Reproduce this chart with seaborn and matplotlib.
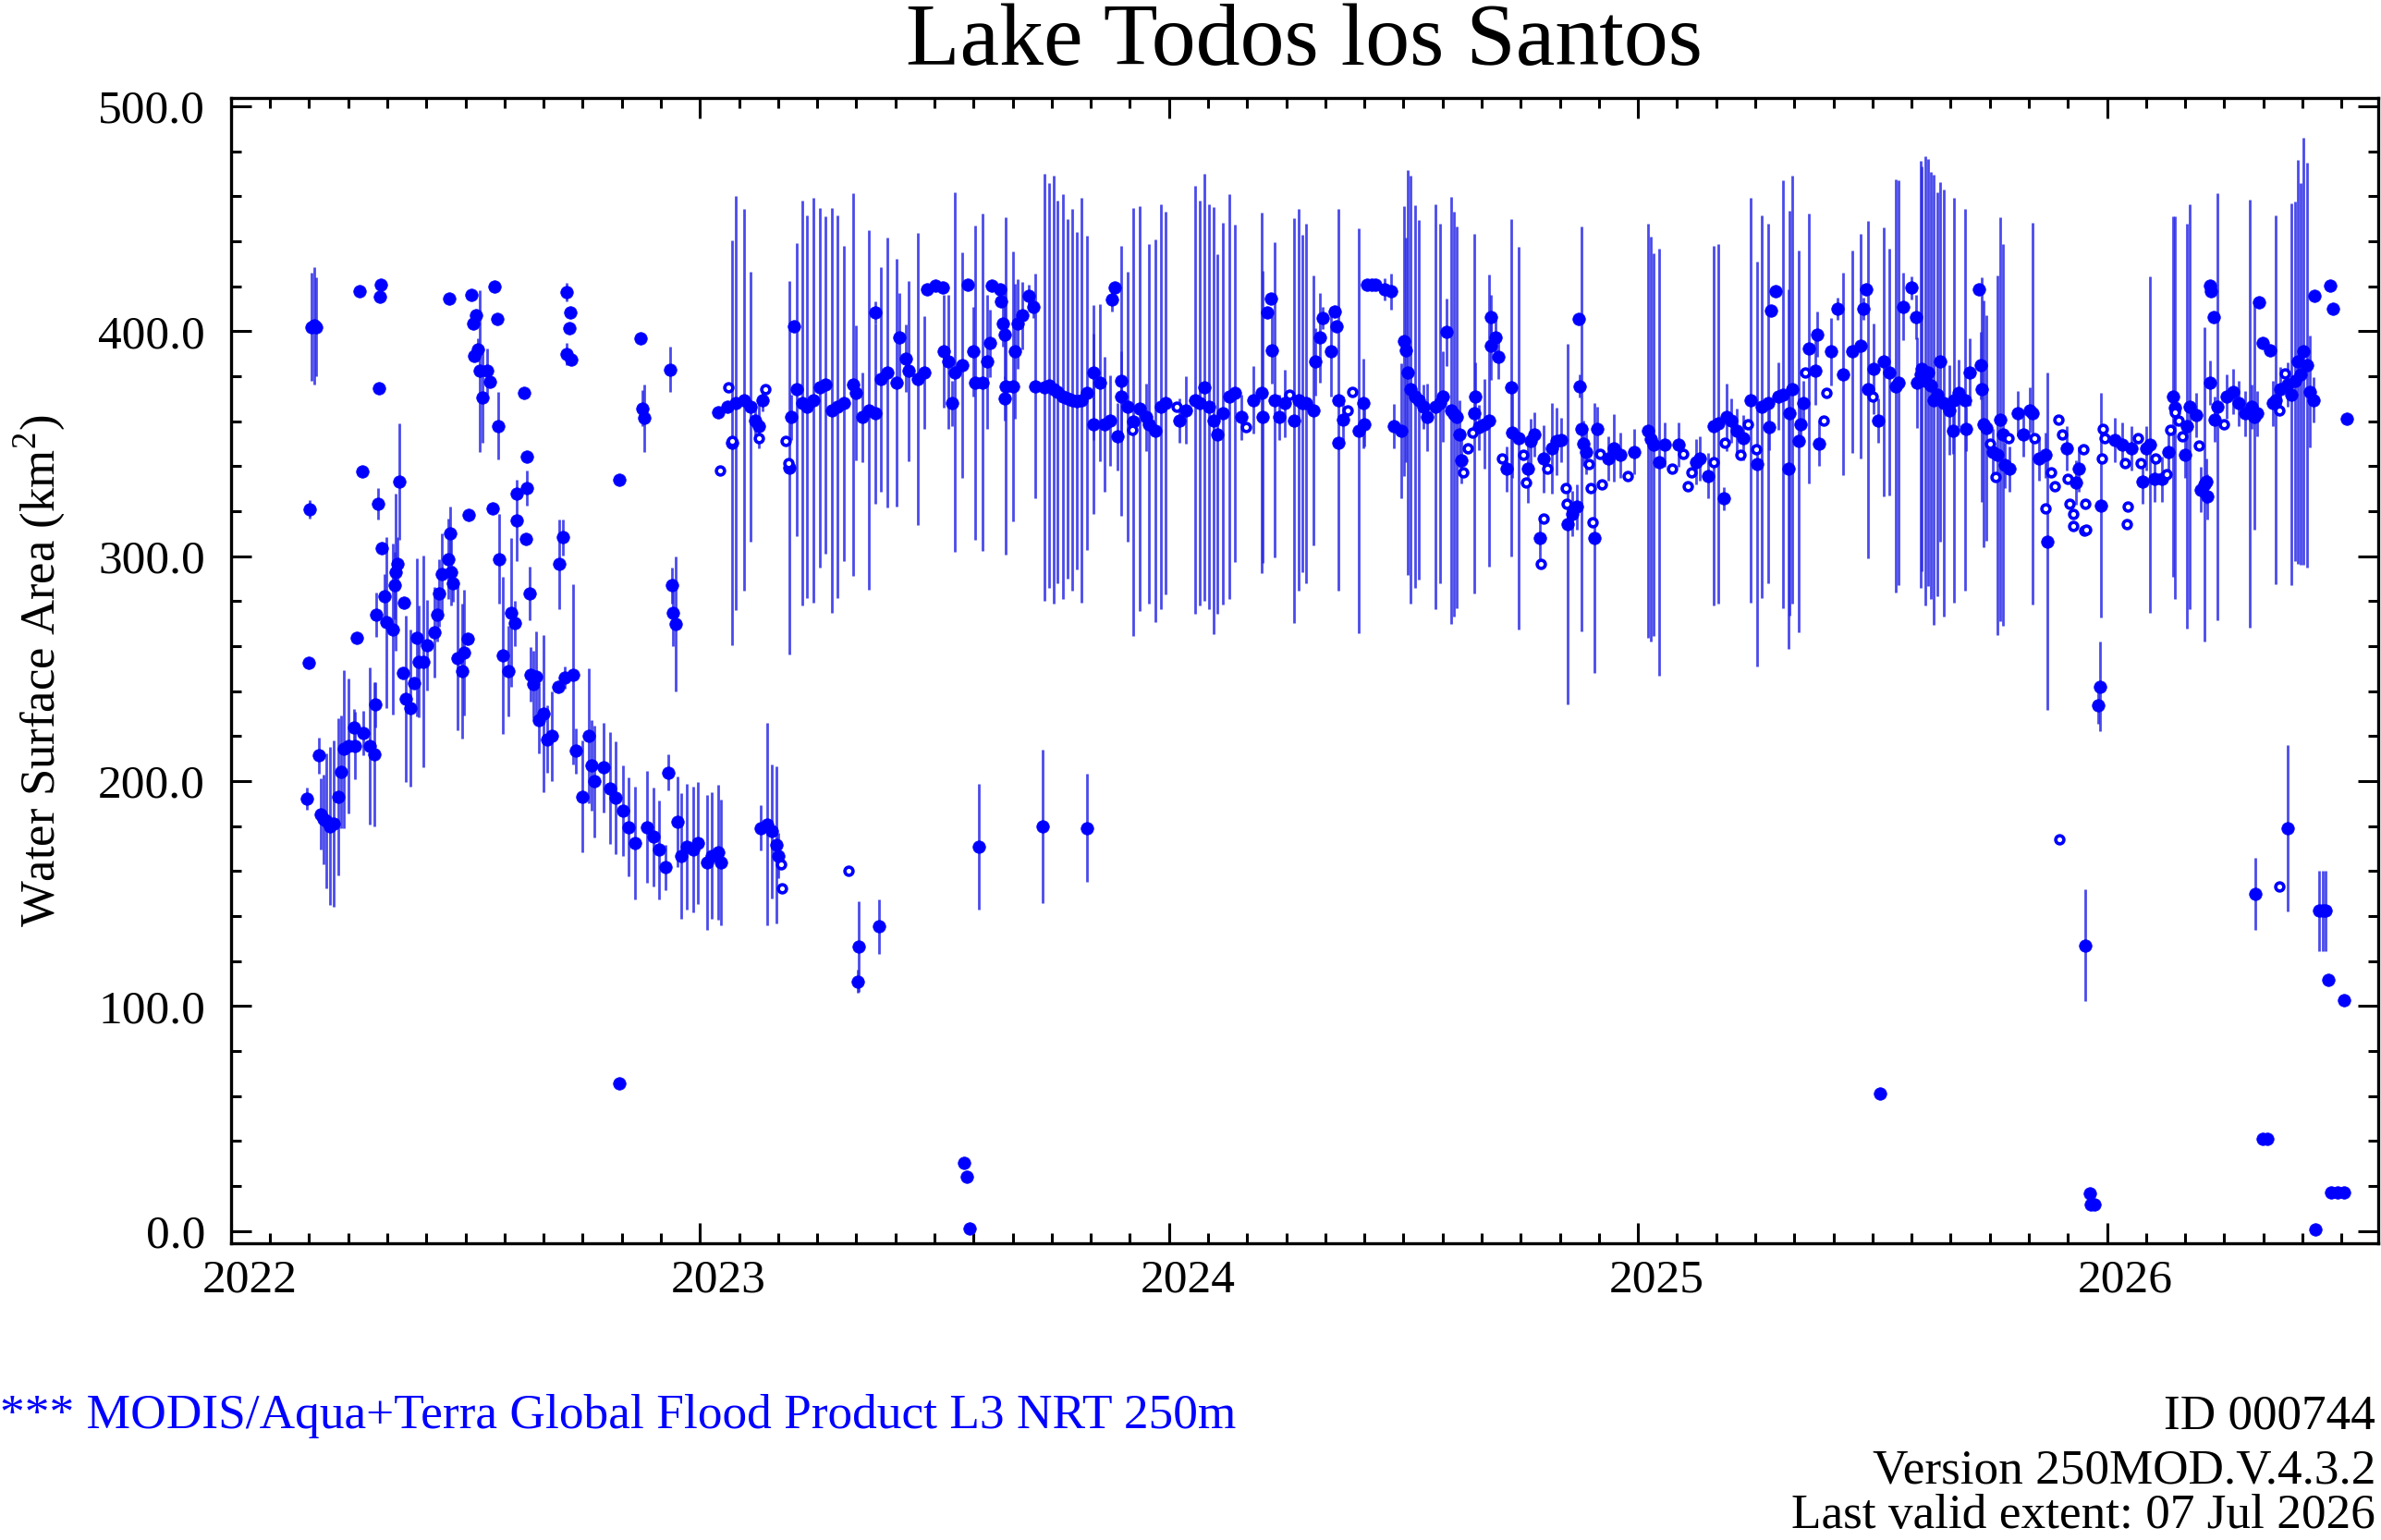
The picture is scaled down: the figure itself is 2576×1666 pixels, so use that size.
import matplotlib
matplotlib.use("Agg")
import pandas as pd
import seaborn as sns
import matplotlib.pyplot as plt
from matplotlib.ticker import MultipleLocator, FormatStrFormatter
from matplotlib.transforms import ScaledTranslation

# ---------------- data ----------------
# filled points: (decimal year, water surface area km2, half length of error bar)
obs_2022 = [
    (2022.167, 320.8, 4), (2022.165, 252.6, 0), (2022.162, 192.3, 5), (2022.172, 402.0, 24),
    (2022.177, 402.5, 26), (2022.182, 402.0, 22), (2022.187, 211.4, 8), (2022.191, 185.4, 16),
    (2022.198, 183.0, 20), (2022.204, 182.5, 30), (2022.212, 180.0, 35), (2022.219, 181.0, 37),
    (2022.229, 193.0, 35), (2022.234, 204.0, 25), (2022.240, 214.2, 35), (2022.250, 215.7, 30),
    (2022.263, 224.0, 8), (2022.265, 215.7, 15), (2022.269, 263.9, 0), (2022.275, 417.8, 0),
    (2022.280, 337.8, 0), (2022.283, 221.4, 10), (2022.296, 215.7, 35), (2022.306, 212.0, 32),
    (2022.307, 234.0, 10), (2022.309, 274.0, 10), (2022.313, 323.4, 7), (2022.316, 374.5, 0),
    (2022.318, 415.2, 0), (2022.320, 420.7, 0), (2022.322, 303.7, 0), (2022.328, 282.0, 10),
    (2022.332, 270.5, 38), (2022.345, 267.6, 38), (2022.349, 287.0, 15), (2022.352, 292.8, 35),
    (2022.354, 296.5, 12), (2022.359, 333.2, 26), (2022.367, 248.0, 0), (2022.368, 279.2, 0),
    (2022.372, 236.5, 37), (2022.382, 232.4, 35), (2022.391, 243.7, 0), (2022.396, 263.9, 35),
    (2022.401, 253.2, 25), (2022.411, 253.2, 47), (2022.418, 260.4, 20), (2022.434, 266.2, 20),
    (2022.439, 274.0, 12), (2022.444, 283.5, 15), (2022.449, 292.2, 18), (2022.464, 298.8, 18),
    (2022.467, 310.0, 12), (2022.470, 293.0, 15), (2022.473, 287.9, 8), (2022.466, 414.6, 0),
    (2022.483, 254.7, 32), (2022.492, 248.9, 30), (2022.496, 257.0, 28), (2022.504, 263.3, 0),
    (2022.506, 318.5, 0), (2022.512, 416.0, 0), (2022.516, 403.3, 0), (2022.519, 388.9, 0),
    (2022.523, 407.1, 0), (2022.526, 391.8, 5), (2022.531, 382.3, 36), (2022.536, 370.4, 20),
    (2022.546, 382.3, 10), (2022.552, 377.6, 0), (2022.557, 321.3, 0), (2022.562, 420.1, 0),
    (2022.567, 405.4, 0), (2022.570, 358.0, 15), (2022.572, 298.8, 20), (2022.579, 255.8, 35),
    (2022.592, 248.9, 20), (2022.598, 274.9, 33), (2022.605, 270.2, 10), (2022.610, 328.0, 0),
    (2022.610, 315.9, 18), (2022.624, 372.7, 0), (2022.628, 307.5, 0), (2022.630, 344.2, 0),
    (2022.631, 330.3, 8), (2022.636, 283.5, 12), (2022.638, 247.4, 12), (2022.644, 243.0, 15),
    (2022.651, 246.6, 20), (2022.657, 227.2, 15), (2022.667, 230.1, 35), (2022.674, 218.6, 15),
    (2022.684, 220.0, 20), (2022.697, 242.0, 0), (2022.700, 296.5, 20), (2022.707, 308.4, 8),
    (2022.712, 246.0, 5), (2022.716, 389.8, 5), (2022.716, 417.5, 4), (2022.721, 401.6, 0),
    (2022.723, 408.5, 0), (2022.726, 387.5, 0), (2022.730, 247.4, 40), (2022.736, 213.4, 10),
    (2022.749, 193.2, 25), (2022.762, 220.0, 30), (2022.769, 207.0, 20), (2022.775, 199.8, 25),
    (2022.795, 206.0, 20), (2022.808, 196.9, 25), (2022.821, 192.6, 25), (2022.828, 65.6, 0),
    (2022.828, 334.0, 0), (2022.835, 186.8, 20), (2022.848, 179.6, 22), (2022.861, 172.4, 25),
    (2022.874, 396.7, 0), (2022.877, 365.8, 8), (2022.881, 361.5, 15), (2022.887, 179.6, 25),
    (2022.900, 175.3, 22), (2022.913, 169.5, 22), (2022.927, 161.7, 10), (2022.933, 203.8, 8),
    (2022.936, 383.1, 10), (2022.940, 287.0, 8), (2022.943, 274.9, 15), (2022.949, 269.7, 30),
    (2022.953, 181.9, 20), (2022.959, 166.6, 28), (2022.972, 170.9, 28), (2022.986, 169.5, 28),
    (2022.995, 172.4, 27),
]

obs_2023 = [
    (2023.015, 163.8, 30), (2023.025, 166.9, 28), (2023.038, 168.4, 30), (2023.044, 163.8, 28),
    (2023.038, 364.0, 0), (2023.058, 366.4, 0), (2023.069, 350.5, 90), (2023.077, 368.0, 92),
    (2023.094, 369.5, 85), (2023.107, 366.4, 60), (2023.117, 360.3, 8), (2023.126, 357.9, 10),
    (2023.133, 369.5, 5), (2023.130, 179.2, 10), (2023.143, 180.7, 45), (2023.153, 177.6, 30),
    (2023.163, 171.5, 35), (2023.166, 166.9, 10), (2023.191, 339.4, 83), (2023.194, 361.8, 10),
    (2023.201, 402.4, 0), (2023.207, 374.1, 65), (2023.218, 368.0, 90), (2023.228, 366.4, 85),
    (2023.241, 369.5, 90), (2023.255, 375.0, 80), (2023.268, 376.3, 75), (2023.281, 364.9, 90),
    (2023.294, 366.4, 85), (2023.307, 368.0, 70), (2023.326, 376.3, 85), (2023.333, 372.6, 30),
    (2023.346, 361.8, 20), (2023.360, 364.9, 80), (2023.373, 363.4, 40), (2023.374, 408.5, 5),
    (2023.386, 378.7, 50), (2023.399, 381.8, 60), (2023.419, 377.2, 55), (2023.425, 397.2, 20),
    (2023.438, 387.9, 15), (2023.445, 382.4, 40), (2023.465, 378.7, 65), (2023.478, 381.8, 25),
    (2023.484, 418.6, 0), (2023.501, 420.2, 0), (2023.517, 419.3, 0), (2023.520, 391.0, 25),
    (2023.530, 386.4, 30), (2023.537, 368.0, 10), (2023.543, 381.8, 80), (2023.560, 384.9, 50),
    (2023.570, 420.8, 0), (2023.583, 391.0, 20), (2023.586, 377.2, 70), (2023.603, 377.2, 75),
    (2023.612, 386.4, 30), (2023.619, 394.7, 15), (2023.622, 420.2, 0), (2023.639, 418.6, 0),
    (2023.642, 413.4, 0), (2023.645, 403.3, 10), (2023.649, 398.7, 20), (2023.652, 375.7, 75),
    (2023.649, 370.1, 10), (2023.668, 375.7, 60), (2023.672, 391.0, 30), (2023.678, 403.3, 20),
    (2023.688, 407.0, 15), (2023.701, 415.6, 5), (2023.711, 411.0, 5), (2023.714, 375.7, 50),
    (2023.734, 375.0, 95), (2023.744, 376.0, 90), (2023.754, 374.1, 95), (2023.763, 373.0, 85),
    (2023.773, 371.0, 90), (2023.783, 370.0, 80), (2023.793, 369.5, 85), (2023.803, 369.0, 75),
    (2023.813, 369.5, 90), (2023.826, 372.6, 70), (2023.839, 381.8, 30), (2023.839, 358.8, 40),
    (2023.852, 377.2, 35), (2023.862, 358.8, 30), (2023.875, 360.3, 20), (2023.878, 414.0, 5),
    (2023.885, 419.3, 0), (2023.891, 353.2, 15), (2023.898, 378.1, 60), (2023.898, 371.0, 20),
    (2023.911, 366.4, 60), (2023.924, 359.7, 95), (2023.937, 365.8, 90), (2023.951, 361.8, 15),
    (2023.970, 355.7, 85), (2023.983, 366.4, 90),
    # low outliers
    (2023.339, 126.4, 20), (2023.337, 111.0, 5), (2023.381, 135.3, 12), (2023.563, 30.3, 0),
    (2023.568, 24.2, 0), (2023.575, 1.0, 0), (2023.594, 170.9, 28), (2023.731, 179.8, 34),
    (2023.826, 179.2, 24),
]

obs_2024 = [
    (2023.957, 358.8, 80), (2023.993, 368.0, 85), (2024.023, 360.3, 10), (2024.036, 364.9, 15),
    (2024.056, 369.5, 95), (2024.066, 368.0, 90), (2024.075, 375.0, 95), (2024.085, 366.4, 90),
    (2024.095, 360.3, 95), (2024.102, 354.2, 80), (2024.115, 363.4, 85), (2024.128, 371.0, 90),
    (2024.141, 372.6, 75), (2024.154, 361.8, 10), (2024.180, 369.5, 15), (2024.197, 372.6, 80),
    (2024.200, 361.8, 65), (2024.210, 408.5, 0), (2024.217, 414.6, 0), (2024.220, 391.6, 15),
    (2024.226, 369.5, 70), (2024.236, 361.8, 10), (2024.246, 368.0, 15), (2024.266, 360.3, 90),
    (2024.276, 369.5, 85), (2024.285, 368.0, 75), (2024.292, 368.0, 80), (2024.308, 364.9, 60),
    (2024.312, 386.4, 15), (2024.322, 397.2, 20), (2024.328, 405.8, 5), (2024.345, 391.0, 20),
    (2024.354, 408.8, 0), (2024.358, 402.4, 0), (2024.361, 369.5, 85), (2024.361, 350.5, 0),
    (2024.371, 360.9, 10), (2024.404, 355.7, 90), (2024.414, 368.0, 20), (2024.417, 358.8, 10),
    (2024.423, 420.8, 0), (2024.432, 420.8, 0), (2024.440, 420.8, 0), (2024.459, 418.6, 5),
    (2024.473, 417.7, 8), (2024.479, 357.9, 10), (2024.496, 355.7, 30), (2024.502, 395.6, 60),
    (2024.505, 391.6, 50), (2024.509, 381.8, 90), (2024.515, 374.1, 95), (2024.525, 371.0, 85),
    (2024.532, 369.5, 80), (2024.542, 366.4, 10), (2024.551, 361.8, 15), (2024.568, 366.4, 90),
    (2024.578, 368.0, 80), (2024.584, 371.0, 20), (2024.591, 399.6, 15), (2024.601, 364.9, 95),
    (2024.607, 363.0, 90), (2024.614, 361.8, 85), (2024.620, 354.2, 15), (2024.624, 342.5, 10),
    (2024.650, 363.4, 80), (2024.653, 371.0, 15), (2024.660, 357.3, 10), (2024.673, 358.8, 20),
    (2024.683, 360.3, 65), (2024.686, 406.4, 10), (2024.686, 393.5, 15), (2024.696, 397.2, 10),
    (2024.702, 388.6, 10), (2024.719, 338.8, 10), (2024.729, 375.0, 75), (2024.732, 354.8, 20),
    (2024.745, 352.6, 85), (2024.765, 338.8, 15), (2024.771, 351.1, 10), (2024.778, 354.2, 10),
    (2024.791, 308.1, 10), (2024.798, 343.4, 15), (2024.817, 348.0, 20), (2024.827, 351.1, 15),
    (2024.837, 351.7, 10), (2024.850, 314.3, 80), (2024.860, 318.9, 10), (2024.870, 322.0, 10),
    (2024.873, 405.4, 0), (2024.876, 375.7, 5), (2024.880, 356.6, 90), (2024.883, 350.2, 10),
    (2024.890, 346.5, 10), (2024.908, 308.1, 60), (2024.913, 356.6, 10), (2024.936, 343.4, 10),
    (2024.949, 348.0, 15), (2024.962, 345.0, 10), (2024.991, 346.5, 10),
]

obs_2025 = [
    (2025.021, 355.7, 92), (2025.027, 352.0, 90), (2025.034, 349.6, 85), (2025.044, 341.9, 95),
    (2025.057, 349.6, 10), (2025.086, 349.6, 10), (2025.123, 341.9, 10), (2025.132, 343.4, 10),
    (2025.149, 335.8, 10), (2025.162, 357.9, 80), (2025.172, 359.0, 80), (2025.182, 325.6, 5),
    (2025.188, 361.8, 15), (2025.198, 360.3, 10), (2025.211, 355.7, 10), (2025.224, 352.6, 10),
    (2025.241, 369.5, 90), (2025.254, 341.0, 90), (2025.264, 366.4, 85), (2025.277, 368.0, 80),
    (2025.280, 357.3, 10), (2025.283, 409.4, 0), (2025.293, 417.7, 0), (2025.300, 371.0, 15),
    (2025.310, 372.0, 95), (2025.320, 338.8, 80), (2025.323, 363.4, 90), (2025.329, 374.1, 95),
    (2025.342, 351.1, 85), (2025.346, 358.8, 10), (2025.352, 368.0, 10), (2025.365, 392.5, 60),
    (2025.379, 382.4, 15), (2025.382, 398.7, 10), (2025.385, 350.2, 10), (2025.411, 391.0, 15),
    (2025.425, 410.0, 5), (2025.438, 380.9, 45), (2025.457, 391.0, 45), (2025.474, 393.5, 50),
    (2025.480, 410.0, 5), (2025.486, 418.6, 0), (2025.490, 374.1, 75), (2025.503, 383.3, 20),
    (2025.513, 360.3, 10), (2025.523, 386.4, 60), (2025.536, 381.8, 55), (2025.549, 375.7, 92),
    (2025.556, 377.0, 90), (2025.566, 411.0, 15), (2025.582, 419.3, 5), (2025.592, 406.4, 10),
    (2025.595, 377.2, 20), (2025.602, 381.0, 95), (2025.605, 383.3, 90), (2025.612, 378.0, 100),
    (2025.618, 381.8, 95), (2025.625, 376.0, 95), (2025.631, 369.5, 100), (2025.638, 372.0, 90),
    (2025.645, 386.4, 80), (2025.651, 368.0, 95), (2025.664, 364.9, 20), (2025.671, 355.7, 10),
    (2025.674, 369.5, 90), (2025.684, 372.6, 15), (2025.697, 369.5, 85), (2025.700, 356.6, 10),
    (2025.707, 381.8, 15), (2025.727, 418.6, 0), (2025.730, 384.9, 15), (2025.733, 374.1, 50),
    (2025.737, 358.8, 55), (2025.743, 357.0, 50), (2025.756, 346.5, 10), (2025.766, 345.0, 80),
    (2025.773, 360.9, 90), (2025.779, 354.0, 85), (2025.782, 340.4, 10), (2025.792, 338.8, 10),
    (2025.809, 363.4, 10), (2025.822, 354.2, 10), (2025.835, 364.9, 10), (2025.842, 363.4, 85),
    (2025.855, 343.4, 10), (2025.868, 345.0, 10), (2025.873, 306.6, 75), (2025.914, 348.0, 10),
    (2025.933, 332.7, 10), (2025.940, 338.8, 10), (2025.986, 322.6, 50),
    # low outliers
    (2025.515, 61.0, 0), (2025.953, 127.0, 25), (2025.963, 16.5, 0), (2025.966, 11.9, 0),
    (2025.973, 11.9, 0), (2025.981, 233.5, 8), (2025.985, 242.1, 20),
]

obs_2026 = [
    (2026.016, 351.7, 10), (2026.032, 349.6, 10), (2026.052, 348.0, 10), (2026.075, 333.3, 10),
    (2026.084, 348.0, 10), (2026.091, 349.6, 75), (2026.101, 334.2, 10), (2026.117, 334.2, 10),
    (2026.130, 346.5, 10), (2026.140, 371.0, 80), (2026.144, 366.0, 85), (2026.167, 345.0, 10),
    (2026.170, 357.9, 90), (2026.176, 366.4, 90), (2026.189, 362.8, 10), (2026.199, 329.6, 10),
    (2026.208, 332.0, 70), (2026.212, 333.3, 10), (2026.214, 326.5, 10), (2026.219, 420.2, 0),
    (2026.222, 417.7, 0), (2026.228, 406.4, 0), (2026.219, 377.2, 10), (2026.229, 360.9, 10),
    (2026.235, 366.4, 95), (2026.255, 371.0, 10), (2026.268, 373.2, 10), (2026.281, 368.0, 10),
    (2026.295, 363.4, 10), (2026.304, 363.4, 95), (2026.308, 366.4, 10), (2026.314, 362.0, 50),
    (2026.321, 363.4, 10), (2026.324, 413.1, 0), (2026.331, 394.7, 0), (2026.347, 391.6, 0),
    (2026.354, 368.0, 10), (2026.359, 369.5, 82), (2026.370, 374.1, 10), (2026.386, 376.3, 10),
    (2026.393, 372.0, 85), (2026.400, 377.8, 80), (2026.406, 386.4, 90), (2026.413, 381.0, 85),
    (2026.419, 391.0, 95), (2026.426, 385.0, 90), (2026.432, 373.2, 25), (2026.440, 369.5, 10),
    (2026.442, 415.6, 0), (2026.475, 420.2, 0), (2026.482, 410.0, 0), (2026.511, 361.2, 0),
    # low outliers
    (2026.316, 150.0, 16), (2026.331, 41.0, 0), (2026.341, 41.0, 0), (2026.386, 179.2, 37),
    (2026.444, 0.5, 0), (2026.452, 142.3, 18), (2026.459, 142.3, 18), (2026.465, 142.3, 18),
    (2026.471, 111.6, 0), (2026.505, 102.4, 0), (2026.478, 17.0, 0), (2026.492, 17.0, 0),
    (2026.505, 17.0, 0),
]

# open (hollow) points: (decimal year, area km2)
hollow_2023 = [
    (2023.043, 337.9), (2023.060, 375.0), (2023.068, 351.1), (2023.125, 352.6), (2023.140, 374.1),
    (2023.173, 163.2), (2023.174, 152.5), (2023.182, 351.1), (2023.189, 341.3), (2023.317, 160.1),
    (2023.921, 356.3), (2024.016, 366.4), (2024.164, 357.3), (2024.256, 371.7), (2024.381, 364.9),
    (2024.391, 373.2),
]

hollow_2024 = [
    (2024.627, 337.3), (2024.637, 348.0), (2024.647, 354.8), (2024.709, 343.4), (2024.755, 345.0),
    (2024.761, 332.7), (2024.798, 316.7), (2024.793, 296.5), (2024.807, 338.8), (2024.845, 330.2),
    (2024.847, 323.5), (2024.896, 341.0), (2024.899, 330.2), (2024.903, 315.2), (2024.919, 345.6),
    (2024.922, 332.1), (2024.978, 335.8),
]

hollow_2025 = [
    (2025.073, 338.8), (2025.096, 345.6), (2025.106, 331.1), (2025.113, 337.3), (2025.162, 341.9),
    (2025.185, 350.5), (2025.218, 345.0), (2025.234, 358.8), (2025.251, 347.4), (2025.356, 381.8),
    (2025.395, 360.3), (2025.402, 372.6), (2025.500, 371.0), (2025.750, 350.2), (2025.763, 335.1),
    (2025.789, 352.6), (2025.845, 352.6), (2025.869, 321.3), (2025.881, 337.3), (2025.888, 331.1),
    (2025.897, 360.9), (2025.904, 354.2), (2025.917, 334.2), (2025.920, 323.5), (2025.927, 313.6),
    (2025.927, 318.9), (2025.950, 347.4), (2025.952, 311.2), (2025.953, 323.5), (2025.956, 311.8),
    (2025.899, 174.0),
]

hollow_2026 = [
    (2025.989, 343.4), (2025.991, 356.6), (2025.994, 352.6), (2026.038, 341.3), (2026.045, 322.0),
    (2026.042, 314.3), (2026.065, 352.6), (2026.071, 341.3), (2026.104, 343.4), (2026.127, 336.4),
    (2026.134, 356.3), (2026.144, 364.0), (2026.153, 360.3), (2026.160, 353.3), (2026.196, 349.0),
    (2026.249, 358.8), (2026.367, 364.9), (2026.380, 381.2), (2026.367, 153.1),
]

year_ticks = [2022, 2023, 2024, 2025, 2026]
title = "Lake Todos los Santos"
source_note = "*** MODIS/Aqua+Terra Global Flood Product L3 NRT 250m"
info_lines = ["ID 000744", "Version 250MOD.V.4.3.2", "Last valid extent: 07 Jul 2026"]

# ---------------- build tables ----------------
filled = pd.DataFrame(obs_2022 + obs_2023 + obs_2024 + obs_2025 + obs_2026,
                      columns=["t", "area", "err"])
hollow = pd.DataFrame(hollow_2023 + hollow_2024 + hollow_2025 + hollow_2026,
                      columns=["t", "area"])

# ---------------- plot ----------------
sns.set_style("ticks")
plt.rcParams["font.family"] = ["Liberation Serif", "DejaVu Serif"]
plt.rcParams["mathtext.fontset"] = "custom"
plt.rcParams["mathtext.rm"] = "Liberation Serif"
plt.rcParams["text.color"] = "black"
plt.rcParams["axes.labelcolor"] = "black"

fig = plt.figure(figsize=(25.76, 16.66), dpi=100)
ax = fig.add_axes([0.0970, 0.1927, 0.9018, 0.7439])

bars = filled[filled["err"] > 0]
ax.vlines(bars["t"], bars["area"] - bars["err"], bars["area"] + bars["err"],
          color="#2a2ae8", alpha=0.85, linewidth=2.0, zorder=2)

sns.scatterplot(data=filled, x="t", y="area", ax=ax, color="blue", s=95,
                edgecolor="blue", linewidth=0.5, zorder=3, legend=False)
sns.scatterplot(data=hollow, x="t", y="area", ax=ax, facecolor="white",
                edgecolor="blue", s=40, linewidth=2.6, zorder=4, legend=False)

ax.set_xlim(2022.0, 2026.578)
ax.set_ylim(-5.5, 503.9)

ax.set_xticks(year_ticks)
ax.xaxis.set_major_formatter(FormatStrFormatter("%d"))
ax.xaxis.set_minor_locator(MultipleLocator(1 / 12))
ax.yaxis.set_major_locator(MultipleLocator(100))
ax.yaxis.set_minor_locator(MultipleLocator(20))
ax.yaxis.set_major_formatter(FormatStrFormatter("%.1f"))

ax.tick_params(which="both", direction="in", top=True, right=True, width=2.2,
               colors="black", labelsize=37)
ax.tick_params(which="major", length=16)
ax.tick_params(which="minor", length=8)
ax.tick_params(axis="y", pad=20)
ax.tick_params(axis="x", pad=12)

for sp in ax.spines.values():
    sp.set_linewidth(2.4)
    sp.set_color("black")

ax.set_xlabel("")
ax.set_ylabel("Water Surface Area (km$^2$)", fontsize=38)
ax.yaxis.set_label_coords(-0.076, 0.5)
ax.set_title(title, fontsize=69, pad=26, color="black")

fig.text(0.0, 0.0726, source_note, color="blue", fontsize=38.4, ha="left", va="baseline")
for txt, yy in zip(info_lines, [0.0726, 0.0370, 0.0080]):
    fig.text(0.9977, yy, txt, color="black", fontsize=38.3, ha="right", va="baseline")

# year labels sit about half a month right of the tick
fig.canvas.draw()
shift = ScaledTranslation(0.2, 0, fig.dpi_scale_trans)
for lbl in ax.get_xticklabels():
    lbl.set_transform(lbl.get_transform() + shift)

fig.savefig("out.png", dpi=100)
